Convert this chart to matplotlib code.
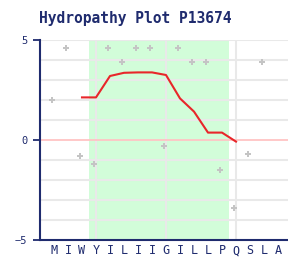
import matplotlib
matplotlib.use("Agg")
import matplotlib.pyplot as plt
import matplotlib.transforms as mtransforms
import numpy as np

# residues and Kyte-Doolittle values
residues = ["M", "I", "W", "Y", "I", "L", "I", "I", "G", "I", "L", "L", "P", "Q", "S", "L", "A"]
hydro = [1.9, 4.5, -0.9, -1.3, 4.5, 3.8, 4.5, 4.5, -0.4, 4.5, 3.8, 3.8, -1.6, -3.5, -0.8, 3.8, None]

# smoothed profile (positions 2..13)
line_pos = [2, 3, 4, 5, 6, 7, 8, 9, 10, 11, 12, 13]
line_val = [2.13, 2.13, 3.2, 3.36, 3.38, 3.38, 3.25, 2.08, 1.42, 0.37, 0.37, -0.08]

# shaded transmembrane region
region = (2.5, 12.5)
vgrid = [3, 8, 13]

navy = "#1f2b6e"
mono = "DejaVu Sans Mono"

fig = plt.figure(figsize=(2.88, 2.60), dpi=100)
ax = fig.add_axes([40 / 288, 20 / 260, 248 / 288, 200 / 260])

ax.axvspan(region[0], region[1], color="#d2fdd9", zorder=0, lw=0)
for y in range(-4, 6):
    if y != 0:
        ax.axhline(y, color="#e9e9e9", lw=1.5, zorder=1)
for x in vgrid:
    ax.axvline(x, color="#e9e9e9", lw=1.5, zorder=1)
ax.axhline(0, color="#ffc4c4", lw=1.3, zorder=1)

xs = [i for i, v in enumerate(hydro) if v is not None]
ys = [v for v in hydro if v is not None]
off = mtransforms.ScaledTranslation(-2 / 100, 2 / 100, fig.dpi_scale_trans)
ax.scatter(xs, ys, marker="P", s=14, color="#c4c4c4", linewidths=0,
           zorder=2, transform=ax.transData + off, clip_on=False)

ax.plot(line_pos, line_val, color="#e8262a", lw=1.5, zorder=3)

ax.set_xlim(-1, (288 - 54) / 14)
ax.set_ylim(-5, 5)
ax.set_xticks(range(len(residues)))
ax.set_xticklabels(residues, fontfamily=mono, fontsize=8.5, color=navy)
ax.set_yticks([5, 0, -5])
ax.set_yticklabels(["5", "0", "\u22125"], fontfamily=mono, fontsize=7.5, color=navy)
ax.tick_params(axis="x", length=0, pad=3)
ax.tick_params(axis="y", length=5, width=1.3, color=navy, pad=4)
ax.yaxis.get_major_ticks()[1].tick1line.set_color("#ffc4c4")

for s in ["top", "right"]:
    ax.spines[s].set_visible(False)
for s in ["left", "bottom"]:
    ax.spines[s].set_color(navy)
    ax.spines[s].set_linewidth(1.5)

fig.text(39 / 288, 1 - 18 / 260, "Hydropathy Plot P13674", fontfamily=mono,
         fontweight="bold", fontsize=10.5, color=navy, ha="left", va="center")

fig.savefig("out.png", dpi=100)
